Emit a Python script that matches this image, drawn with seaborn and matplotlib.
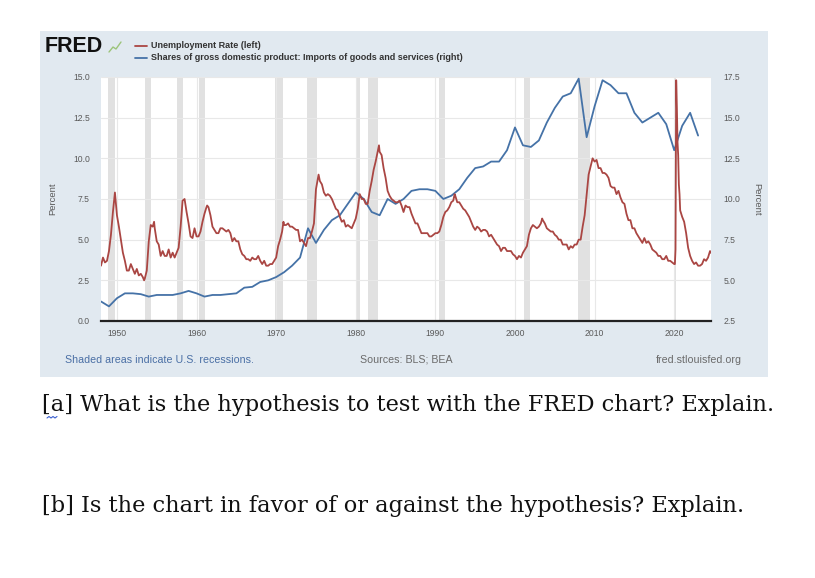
import pandas as pd
import seaborn as sns
import matplotlib.pyplot as plt
import matplotlib.dates as mdates
from matplotlib.patches import Rectangle
from matplotlib.lines import Line2D

# Unemployment rate (left axis) at roughly quarterly points
unrate_dates = [
    "1948-01", "1948-04", "1948-07", "1948-10",
    "1949-01", "1949-04", "1949-07", "1949-10",
    "1950-01", "1950-04", "1950-07", "1950-10",
    "1951-01", "1951-04", "1951-07", "1951-10",
    "1952-01", "1952-04", "1952-07", "1952-10",
    "1953-01", "1953-04", "1953-06", "1953-07", "1953-10",
    "1954-01", "1954-04", "1954-07", "1954-09", "1954-10",
    "1955-01", "1955-04", "1955-07", "1955-10",
    "1956-01", "1956-04", "1956-07", "1956-10",
    "1957-01", "1957-04", "1957-07", "1957-10",
    "1958-01", "1958-04", "1958-07", "1958-10",
    "1959-01", "1959-04", "1959-07", "1959-10",
    "1960-01", "1960-04", "1960-07", "1960-10",
    "1961-01", "1961-04", "1961-05", "1961-07", "1961-10",
    "1962-01", "1962-04", "1962-07", "1962-10",
    "1963-01", "1963-04", "1963-07", "1963-10",
    "1964-01", "1964-04", "1964-07", "1964-10",
    "1965-01", "1965-04", "1965-07", "1965-10",
    "1966-01", "1966-04", "1966-07", "1966-10",
    "1967-01", "1967-04", "1967-07", "1967-10",
    "1968-01", "1968-04", "1968-07", "1968-10",
    "1969-01", "1969-04", "1969-07", "1969-10",
    "1970-01", "1970-04", "1970-07", "1970-10", "1970-12",
    "1971-01", "1971-04", "1971-07", "1971-10",
    "1972-01", "1972-04", "1972-07", "1972-10",
    "1973-01", "1973-04", "1973-07", "1973-10",
    "1974-01", "1974-04", "1974-07", "1974-10",
    "1975-01", "1975-05", "1975-07", "1975-10",
    "1976-01", "1976-04", "1976-07", "1976-10",
    "1977-01", "1977-04", "1977-07", "1977-10",
    "1978-01", "1978-04", "1978-07", "1978-10",
    "1979-01", "1979-04", "1979-07", "1979-10",
    "1980-01", "1980-04", "1980-07", "1980-10",
    "1981-01", "1981-04", "1981-07", "1981-10",
    "1982-01", "1982-04", "1982-07", "1982-10", "1982-12",
    "1983-01", "1983-04", "1983-07", "1983-10",
    "1984-01", "1984-04", "1984-07", "1984-10",
    "1985-01", "1985-04", "1985-07", "1985-10",
    "1986-01", "1986-04", "1986-07", "1986-10",
    "1987-01", "1987-04", "1987-07", "1987-10",
    "1988-01", "1988-04", "1988-07", "1988-10",
    "1989-01", "1989-04", "1989-07", "1989-10",
    "1990-01", "1990-04", "1990-07", "1990-10",
    "1991-01", "1991-04", "1991-07", "1991-10",
    "1992-01", "1992-04", "1992-06", "1992-07", "1992-10",
    "1993-01", "1993-04", "1993-07", "1993-10",
    "1994-01", "1994-04", "1994-07", "1994-10",
    "1995-01", "1995-04", "1995-07", "1995-10",
    "1996-01", "1996-04", "1996-07", "1996-10",
    "1997-01", "1997-04", "1997-07", "1997-10",
    "1998-01", "1998-04", "1998-07", "1998-10",
    "1999-01", "1999-04", "1999-07", "1999-10",
    "2000-01", "2000-04", "2000-07", "2000-10",
    "2001-01", "2001-04", "2001-07", "2001-10",
    "2002-01", "2002-04", "2002-07", "2002-10",
    "2003-01", "2003-04", "2003-06", "2003-07", "2003-10",
    "2004-01", "2004-04", "2004-07", "2004-10",
    "2005-01", "2005-04", "2005-07", "2005-10",
    "2006-01", "2006-04", "2006-07", "2006-10",
    "2007-01", "2007-04", "2007-07", "2007-10",
    "2008-01", "2008-04", "2008-07", "2008-10",
    "2009-01", "2009-04", "2009-07", "2009-10",
    "2010-01", "2010-04", "2010-07", "2010-10",
    "2011-01", "2011-04", "2011-07", "2011-10",
    "2012-01", "2012-04", "2012-07", "2012-10",
    "2013-01", "2013-04", "2013-07", "2013-10",
    "2014-01", "2014-04", "2014-07", "2014-10",
    "2015-01", "2015-04", "2015-07", "2015-10",
    "2016-01", "2016-04", "2016-07", "2016-10",
    "2017-01", "2017-04", "2017-07", "2017-10",
    "2018-01", "2018-04", "2018-07", "2018-10",
    "2019-01", "2019-04", "2019-07", "2019-10",
    "2020-01", "2020-02", "2020-03", "2020-04", "2020-05", "2020-06",
    "2020-07", "2020-08", "2020-09", "2020-10",
    "2021-01", "2021-04", "2021-07", "2021-10",
    "2022-01", "2022-04", "2022-07", "2022-10",
    "2023-01", "2023-04", "2023-07", "2023-10",
    "2024-01", "2024-04", "2024-07", "2024-08",
]
unrate_values = [
    3.4, 3.9, 3.6, 3.7,
    4.3, 5.3, 6.7, 7.9,
    6.5, 5.8, 5.0, 4.2,
    3.7, 3.1, 3.1, 3.5,
    3.2, 2.9, 3.2, 2.8,
    2.9, 2.7, 2.5, 2.6, 3.1,
    4.9, 5.9, 5.8, 6.1, 5.7,
    4.9, 4.7, 4.0, 4.3,
    4.0, 4.0, 4.4, 3.9,
    4.2, 3.9, 4.2, 4.5,
    5.8, 7.4, 7.5, 6.7,
    6.0, 5.2, 5.1, 5.7,
    5.2, 5.2, 5.5, 6.1,
    6.6, 7.0, 7.1, 7.0, 6.5,
    5.8, 5.6, 5.4, 5.4,
    5.7, 5.7, 5.6, 5.5,
    5.6, 5.4, 4.9, 5.1,
    4.9, 4.9, 4.4, 4.1,
    4.0, 3.8, 3.8, 3.7,
    3.9, 3.8, 3.8, 4.0,
    3.7, 3.5, 3.7, 3.4,
    3.4, 3.5, 3.5, 3.7,
    3.9, 4.6, 5.0, 5.5, 6.1,
    5.9, 5.9, 6.0, 5.8,
    5.8, 5.7, 5.6, 5.6,
    4.9, 5.0, 4.8, 4.6,
    5.1, 5.1, 5.5, 6.0,
    8.1, 9.0, 8.6, 8.4,
    7.9, 7.7, 7.8, 7.7,
    7.5, 7.2, 6.9, 6.8,
    6.4, 6.1, 6.2, 5.8,
    5.9, 5.8, 5.7, 6.0,
    6.3, 6.9, 7.8, 7.5,
    7.5, 7.2, 7.2, 8.0,
    8.6, 9.3, 9.8, 10.4, 10.8,
    10.4, 10.2, 9.4, 8.8,
    8.0, 7.7, 7.5, 7.4,
    7.3, 7.3, 7.4, 7.1,
    6.7, 7.1, 7.0, 7.0,
    6.6, 6.3, 6.0, 6.0,
    5.7, 5.4, 5.4, 5.4,
    5.4, 5.2, 5.2, 5.3,
    5.4, 5.4, 5.5, 5.9,
    6.4, 6.7, 6.8, 7.0,
    7.3, 7.4, 7.8, 7.7, 7.3,
    7.3, 7.1, 6.9, 6.8,
    6.6, 6.4, 6.1, 5.8,
    5.6, 5.8, 5.7, 5.5,
    5.6, 5.6, 5.5, 5.2,
    5.3, 5.1, 4.9, 4.7,
    4.6, 4.3, 4.5, 4.5,
    4.3, 4.3, 4.3, 4.1,
    4.0, 3.8, 4.0, 3.9,
    4.2, 4.4, 4.6, 5.3,
    5.7, 5.9, 5.8, 5.7,
    5.8, 6.0, 6.3, 6.2, 6.0,
    5.7, 5.6, 5.5, 5.5,
    5.3, 5.2, 5.0, 5.0,
    4.7, 4.7, 4.7, 4.4,
    4.6, 4.5, 4.7, 4.7,
    5.0, 5.0, 5.8, 6.5,
    7.8, 9.0, 9.5, 10.0,
    9.8, 9.9, 9.4, 9.4,
    9.1, 9.1, 9.0, 8.8,
    8.3, 8.2, 8.2, 7.8,
    8.0, 7.6, 7.3, 7.2,
    6.6, 6.2, 6.2, 5.7,
    5.7, 5.4, 5.2, 5.0,
    4.8, 5.1, 4.8, 4.9,
    4.7, 4.4, 4.3, 4.2,
    4.0, 4.0, 3.8, 3.8,
    4.0, 3.7, 3.7, 3.6,
    3.5, 3.5, 4.4, 14.8, 13.2, 11.0,
    10.2, 8.4, 7.8, 6.8,
    6.4, 6.1, 5.4, 4.5,
    4.0, 3.7, 3.5, 3.6,
    3.4, 3.4, 3.5, 3.8,
    3.7, 3.9, 4.3, 4.2,
]

# Imports of goods and services, share of GDP (right axis), annual
imports_years = list(range(1948, 2024))
imports_values = [
    3.7, 3.4, 3.9, 4.2, 4.2, 4.15, 4.0, 4.1, 4.1, 4.1,
    4.2, 4.35, 4.2, 4.0, 4.1, 4.1, 4.15, 4.2, 4.55, 4.6,
    4.9, 5.0, 5.2, 5.5, 5.9, 6.4, 8.2, 7.3, 8.1, 8.7,
    9.0, 9.7, 10.4, 10.0, 9.2, 9.0, 10.0, 9.7, 10.0, 10.5,
    10.6, 10.6, 10.5, 10.0, 10.2, 10.6, 11.3, 11.9, 12.0, 12.3,
    12.3, 13.0, 14.4, 13.3, 13.2, 13.6, 14.7, 15.6, 16.3, 16.5,
    17.4, 13.8, 15.7, 17.3, 17.0, 16.5, 16.5, 15.3, 14.7, 15.0,
    15.3, 14.6, 13.0, 14.5, 15.3, 13.9,
]

# NBER recessions (start, end)
recession_starts = ["1948-11", "1953-07", "1957-08", "1960-04", "1969-12", "1973-11",
                    "1980-01", "1981-07", "1990-07", "2001-03", "2007-12", "2020-02"]
recession_ends = ["1949-10", "1954-05", "1958-04", "1961-02", "1970-11", "1975-03",
                  "1980-07", "1982-11", "1991-03", "2001-11", "2009-06", "2020-04"]

left_ticks = [0.0, 2.5, 5.0, 7.5, 10.0, 12.5, 15.0]
right_ticks = [2.5, 5.0, 7.5, 10.0, 12.5, 15.0, 17.5]

unrate = pd.DataFrame({"date": pd.to_datetime(unrate_dates), "value": unrate_values})
imports = pd.DataFrame({"date": pd.to_datetime([f"{y}-01-01" for y in imports_years]),
                        "value": imports_values})

sns.set_style("white")
plt.rcParams["font.family"] = ["Liberation Sans", "DejaVu Sans"]

W, H = 815, 578
RED = "#aa4643"
BLUE = "#4572a7"
TICK = "#5a5a5a"

fig = plt.figure(figsize=(W / 100, H / 100), dpi=100)

def fx(px):
    return px / W

def fy(py):
    return 1 - py / H

# FRED panel background
fig.patches.append(Rectangle((fx(40), fy(377)), fx(768) - fx(40), fy(31) - fy(377),
                             transform=fig.transFigure, facecolor="#e1e9f0",
                             edgecolor="none", zorder=0))

# right axis sits underneath (background, grid, recessions, blue line)
ax2 = fig.add_axes([fx(101), fy(321), fx(711) - fx(101), fy(77) - fy(321)])
ax = ax2.twinx()
ax.yaxis.tick_left()
ax2.yaxis.tick_right()
ax2.set_zorder(1)
ax.set_zorder(2)
ax.patch.set_visible(False)
ax2.patch.set_visible(True)
ax2.patch.set_facecolor("white")

for s, e in zip(recession_starts, recession_ends):
    ax2.axvspan(pd.Timestamp(s), pd.Timestamp(e), color="#e1e1e1", lw=0, zorder=0)

sns.lineplot(data=imports, x="date", y="value", ax=ax2, color=BLUE, linewidth=1.3, zorder=3)
sns.lineplot(data=unrate, x="date", y="value", ax=ax, color=RED, linewidth=1.3, zorder=3)

xmin, xmax = pd.Timestamp("1948-01-01"), pd.Timestamp("2024-08-15")
ax2.set_xlim(xmin, xmax)
ax.set_xlim(xmin, xmax)
ax.set_ylim(0, 15)
ax2.set_ylim(2.5, 17.5)
ax.set_yticks(left_ticks)
ax2.set_yticks(right_ticks)
ax.set_yticklabels([f"{v:.1f}" for v in left_ticks])
ax2.set_yticklabels([f"{v:.1f}" for v in right_ticks])

ax2.xaxis.set_major_locator(mdates.YearLocator(10))
ax2.xaxis.set_major_formatter(mdates.DateFormatter("%Y"))
ax2.grid(True, color="#e8e8e8", linewidth=0.8, zorder=0)
ax2.set_axisbelow(True)
ax.grid(False)

ax.set_xlabel("")
ax.set_ylabel("")
ax2.set_xlabel("")
ax2.set_ylabel("")

for a in (ax, ax2):
    for sp in a.spines.values():
        sp.set_visible(False)
ax.spines["bottom"].set_visible(True)
ax.spines["bottom"].set_color("#222222")
ax.spines["bottom"].set_linewidth(1.6)

ax.tick_params(axis="y", length=0, labelsize=6.2, labelcolor=TICK, pad=8, left=True, labelleft=True)
ax.tick_params(axis="x", length=0, labelbottom=False)
ax2.tick_params(axis="y", length=0, labelsize=6.2, labelcolor=TICK, pad=9, right=True, labelright=True,
                left=False, labelleft=False)
ax2.tick_params(axis="x", length=0, labelsize=6.2, labelcolor=TICK, pad=6)

fig.text(fx(53), fy(199), "Percent", rotation=90, ha="center", va="center", fontsize=6.8, color=TICK)
fig.text(fx(757), fy(199), "Percent", rotation=270, ha="center", va="center", fontsize=6.8, color=TICK)

# FRED logo and legend
fig.text(fx(45), fy(47), "FRED", fontsize=15.5, fontweight="bold", color="#111111", va="center")
fig.add_artist(Line2D([fx(109), fx(113), fx(116), fx(121)], [fy(52), fy(47), fy(49), fy(42)],
                      transform=fig.transFigure, color="#9cc47a", lw=1.0))
fig.add_artist(Line2D([fx(135), fx(147)], [fy(45.5), fy(45.5)], transform=fig.transFigure,
                      color=RED, lw=1.3))
fig.add_artist(Line2D([fx(135), fx(147)], [fy(57.5), fy(57.5)], transform=fig.transFigure,
                      color=BLUE, lw=1.3))
fig.text(fx(151), fy(45.5), "Unemployment Rate (left)", fontsize=6.5, fontweight="bold",
         color="#333333", va="center")
fig.text(fx(151), fy(57.5), "Shares of gross domestic product: Imports of goods and services (right)",
         fontsize=6.5, fontweight="bold", color="#333333", va="center")

# footer
fig.text(fx(65), fy(360), "Shaded areas indicate U.S. recessions.", fontsize=7.7, color="#4a6fa5", va="center")
fig.text(fx(406), fy(360), "Sources: BLS; BEA", fontsize=7.7, color="#6b6b6b", va="center", ha="center")
fig.text(fx(742), fy(360), "fred.stlouisfed.org", fontsize=7.7, color="#6b6b6b", va="center", ha="right")

# questions below the chart
fig.text(fx(42), fy(405), "[a] What is the hypothesis to test with the FRED chart? Explain.",
         family="DejaVu Serif", fontsize=16.2, color="#111111", va="center")
fig.add_artist(Line2D([fx(47), fx(49), fx(51), fx(53), fx(55), fx(57)],
                      [fy(418), fy(416.5), fy(418), fy(416.5), fy(418), fy(416.5)],
                      transform=fig.transFigure, color="#3a5fd0", lw=0.8))
fig.text(fx(42), fy(506), "[b] Is the chart in favor of or against the hypothesis? Explain.",
         family="DejaVu Serif", fontsize=16.2, color="#111111", va="center")

fig.savefig("out.png", dpi=100)
